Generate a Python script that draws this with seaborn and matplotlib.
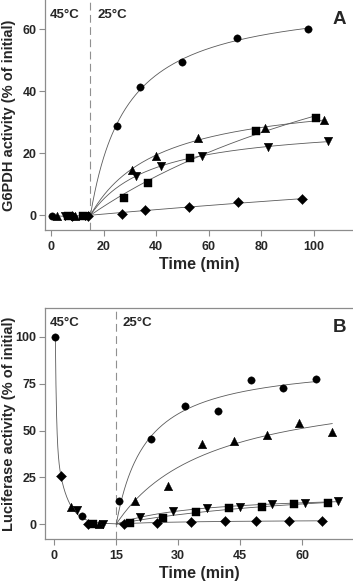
"""
G6PDH and luciferase reactivation after heat shock (45°C -> 25°C)
"""
import numpy as np
import pandas as pd
import matplotlib
matplotlib.use('Agg')
import matplotlib.pyplot as plt
import seaborn as sns

SHIFT = 15  # min, 45°C -> 25°C

# ---- panel A: G6PDH ----
a_pre_t = {'circle': [0.3, 7.9], 'triangle': [2.2, 9.0], 'square': [6.5, 12.2],
           'down': [5.3, 13.0], 'diamond': [8.0, 14.2]}
a_pre_y = {'circle': [-0.2, -0.2], 'triangle': [-0.2, -0.2], 'square': [-0.3, -0.2],
           'down': [-0.4, -0.4], 'diamond': [-0.3, -0.2]}
a_rec_t = {'circle': [25.0, 33.9, 49.8, 71.0, 98.0],
           'triangle': [30.7, 39.9, 55.9, 81.3, 104.0],
           'square': [27.9, 36.8, 53.0, 78.1, 101.0],
           'down': [32.4, 41.9, 57.4, 82.5, 105.6],
           'diamond': [26.9, 35.6, 52.7, 71.1, 95.5]}
a_rec_y = {'circle': [28.8, 41.4, 49.4, 57.1, 60.0],
           'triangle': [14.7, 19.1, 24.9, 28.2, 30.6],
           'square': [5.6, 10.5, 18.5, 27.2, 31.3],
           'down': [12.7, 15.9, 19.1, 22.0, 23.9],
           'diamond': [0.3, 1.6, 2.7, 4.1, 5.2]}

# ---- panel B: luciferase ----
b_pre_t = {'circle': [0.25, 6.6], 'diamond': [1.6, 8.2], 'triangle': [4.0, 10.7],
           'down': [5.6, 11.9], 'square': [9.4]}
b_pre_y = {'circle': [100.2, 4.3], 'diamond': [25.8, 0.0], 'triangle': [8.9, 0.0],
           'down': [7.5, 0.0], 'square': [0.0]}
b_rec_t = {'circle': [15.7, 23.4, 31.7, 39.7, 47.6, 55.3, 63.3],
           'triangle': [19.5, 27.4, 35.7, 43.6, 51.6, 59.3, 67.3],
           'down': [20.8, 28.8, 37.0, 45.0, 52.8, 60.7, 68.6],
           'square': [18.3, 26.4, 34.3, 42.3, 50.2, 58.1, 66.2],
           'diamond': [16.9, 24.8, 33.0, 41.2, 48.9, 56.9, 64.7]}
b_rec_y = {'circle': [12.3, 45.6, 63.1, 60.4, 77.0, 72.7, 77.7],
           'triangle': [12.3, 20.3, 42.6, 44.4, 47.4, 53.8, 49.0],
           'down': [3.6, 7.0, 8.7, 9.3, 10.7, 11.1, 12.5],
           'square': [0.4, 3.0, 6.6, 8.7, 9.3, 10.5, 11.1],
           'diamond': [0.0, 0.7, 1.3, 1.6, 1.6, 1.6, 1.6]}

markers = {'circle': 'o', 'triangle': '^', 'down': 'v', 'square': 's', 'diamond': 'D'}
sizes = {'circle': 28, 'triangle': 38, 'down': 38, 'square': 26, 'diamond': 26}
LINE = '#5a5a5a'
SPINE = '#8c8c8c'


def fit_recovery(t, y):
    # hyperbolic recovery y = a*x/(b+x), x = t - SHIFT
    x = np.asarray(t) - SHIFT
    y = np.asarray(y)
    best = None
    for b in np.logspace(-1, 4, 1500):
        f = x / (b + x)
        a = (f @ y) / (f @ f)
        err = ((a * f - y) ** 2).sum()
        if best is None or err < best[0]:
            best = (err, a, b)
    return best[1], best[2]


def fit_decay(t, y):
    # two-exponential inactivation
    t = np.asarray(t)
    y = np.asarray(y)
    best = None
    for k1 in np.logspace(-1, 1.3, 80):
        for k2 in np.logspace(-2, 1, 80):
            M = np.column_stack([np.exp(-k1 * t), np.exp(-k2 * t)])
            c, *_ = np.linalg.lstsq(M, y, rcond=None)
            if (c < 0).any():
                continue
            err = ((M @ c - y) ** 2).sum()
            if best is None or err < best[0]:
                best = (err, k1, k2, c)
    return best[1:]


def points_frame(pre_t, pre_y, rec_t, rec_y):
    rows = []
    for s in rec_t:
        for tt, yy in zip(pre_t[s] + rec_t[s], pre_y[s] + rec_y[s]):
            rows.append({'time': tt, 'activity': yy, 'series': s})
    return pd.DataFrame(rows)


def draw_points(ax, df):
    for s, d in df.groupby('series'):
        sns.scatterplot(data=d, x='time', y='activity', marker=markers[s],
                        s=sizes[s], color='black', edgecolor='black',
                        linewidth=0.3, ax=ax, legend=False, zorder=3)


def draw_recovery_curves(ax, rec_t, rec_y):
    for s in rec_t:
        a, b = fit_recovery(rec_t[s], rec_y[s])
        tt = np.linspace(SHIFT, max(rec_t[s]), 200)
        sns.lineplot(x=tt, y=a * (tt - SHIFT) / (b + tt - SHIFT), ax=ax,
                     color=LINE, linewidth=0.6, zorder=2)


def style_axes(ax, xticks, yticks, xlim, ylim, ylabel, letter, t25_x, top):
    ax.set_xlim(*xlim)
    ax.set_ylim(*ylim)
    ax.set_xticks(xticks)
    ax.set_yticks(yticks)
    ax.axvline(SHIFT, color='#909090', lw=0.8, ls=(0, (7, 4)), zorder=1)
    for side in ['left', 'bottom', 'top']:
        ax.spines[side].set_color(SPINE)
        ax.spines[side].set_linewidth(0.9)
    ax.spines['right'].set_visible(False)
    ax.spines['top'].set_visible(top)
    ax.tick_params(direction='out', length=4, width=0.8, color=SPINE,
                   labelsize=9, pad=4)
    ax.tick_params(axis='y', pad=2)
    for lab in ax.get_xticklabels() + ax.get_yticklabels():
        lab.set_fontweight('bold')
    ax.set_xlabel('Time (min)', fontsize=11.5, fontweight='bold', labelpad=3)
    ax.set_ylabel(ylabel, fontsize=10.5, fontweight='bold')
    ax.yaxis.set_label_coords(-0.094, 0.5)
    ax.text(0.016, 0.935, '45°C', transform=ax.transAxes, fontsize=9.5,
            fontweight='bold', va='center', ha='left')
    ax.text(t25_x, 0.935, '25°C', transform=ax.transAxes, fontsize=9.5,
            fontweight='bold', va='center', ha='left')
    ax.text(0.978, 0.915, letter, transform=ax.transAxes, fontsize=13.5,
            fontweight='bold', va='center', ha='right')


sns.set_style('ticks')
plt.rcParams['font.family'] = ['Liberation Sans', 'DejaVu Sans']

fig = plt.figure(figsize=(3.53, 5.84), dpi=100)
axA = fig.add_axes([0.1275, 0.606, 0.8725, 0.394])
axB = fig.add_axes([0.1275, 0.077, 0.8725, 0.3956])

# panel A
dfA = points_frame(a_pre_t, a_pre_y, a_rec_t, a_rec_y)
pre = dfA[dfA['time'] < SHIFT].sort_values('time')
sns.lineplot(x=list(pre['time']) + [SHIFT], y=list(pre['activity']) + [0],
             ax=axA, color=LINE, linewidth=0.6, zorder=2, sort=False)
draw_recovery_curves(axA, a_rec_t, a_rec_y)
draw_points(axA, dfA)
style_axes(axA, [0, 20, 40, 60, 80, 100], [0, 20, 40, 60], (-2.3, 115),
           (-4.8, 69.4), 'G6PDH activity (% of initial)', 'A', 0.169, False)

# panel B
dfB = points_frame(b_pre_t, b_pre_y, b_rec_t, b_rec_y)
pre = dfB[dfB['time'] < SHIFT]
k1, k2, c = fit_decay(pre['time'], pre['activity'])
tt = np.linspace(min(pre['time']), SHIFT, 300)
sns.lineplot(x=tt, y=c[0] * np.exp(-k1 * tt) + c[1] * np.exp(-k2 * tt),
             ax=axB, color=LINE, linewidth=0.6, zorder=2)
draw_recovery_curves(axB, b_rec_t, b_rec_y)
draw_points(axB, dfB)
style_axes(axB, [0, 15, 30, 45, 60], [0, 25, 50, 75, 100], (-2.25, 72.3),
           (-8.0, 115.5), 'Luciferase activity (% of initial)', 'B', 0.25, True)

fig.savefig('out.png', dpi=100)
